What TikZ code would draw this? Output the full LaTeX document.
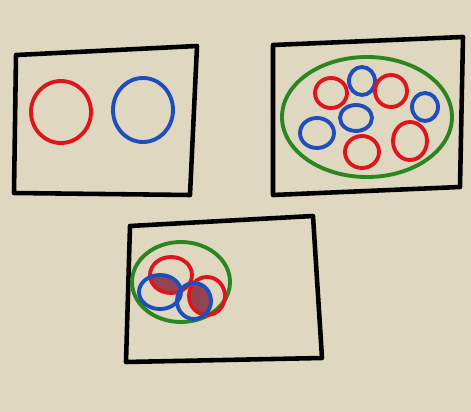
\documentclass[tikz,border=0pt]{standalone}
\definecolor{paper}{RGB}{223,215,191}
\definecolor{inkred}{RGB}{222,22,28}
\definecolor{inkblue}{RGB}{30,78,190}
\definecolor{inkgreen}{RGB}{42,134,30}
\definecolor{bruise}{RGB}{140,52,72}

\begin{document}
\begin{tikzpicture}[x=0.02cm,y=-0.02cm,line cap=round,line join=round,
    frame/.style={draw=black,line width=2.6pt},
    redring/.style={draw=inkred,line width=2.2pt},
    bluering/.style={draw=inkblue,line width=2.2pt},
    greenring/.style={draw=inkgreen,line width=2.2pt},
    overlap/.style={fill=bruise,fill opacity=0.9}]

\fill[paper] (0,0) rectangle (471,412);
\useasboundingbox (0,0) rectangle (471,412);

% first box: two sets apart
\draw[frame] (16,55)--(197,46)--(190,195)--(14,193)--cycle;
\draw[redring] (61,112) ellipse [x radius=30, y radius=31];
\draw[bluering] (143,110) ellipse [x radius=30, y radius=32];

% second box: many sets in one
\draw[frame] (273,45)--(463,37)--(460,187)--(273,195)--cycle;
\draw[greenring] (367,117) ellipse [x radius=85, y radius=60];
\draw[redring] (331,93) ellipse [x radius=16, y radius=15];
\draw[bluering] (362,81) ellipse [x radius=13, y radius=14];
\draw[redring] (391,91) ellipse [x radius=16, y radius=16];
\draw[bluering] (425,107) ellipse [x radius=13, y radius=14];
\draw[bluering] (356,118) ellipse [x radius=16, y radius=13];
\draw[bluering] (317,133) ellipse [x radius=17, y radius=15];
\draw[redring] (362,152) ellipse [x radius=17, y radius=16];
\draw[redring] (410,141) ellipse [x radius=17, y radius=19];

% third box: overlapping pairs
\draw[frame] (130,226)--(313,216)--(322,358)--(126,362)--cycle;
\draw[greenring] (181,282) ellipse [x radius=49, y radius=40];

\begin{scope}
\clip (171,275) ellipse [x radius=21, y radius=18];
\fill[overlap] (160,292) ellipse [x radius=21, y radius=17];
\end{scope}
\begin{scope}
\clip (207,296) ellipse [x radius=18, y radius=19];
\fill[overlap] (194,301) ellipse [x radius=17, y radius=18];
\end{scope}

\draw[redring] (171,275) ellipse [x radius=21, y radius=18];
\draw[redring] (207,296) ellipse [x radius=18, y radius=19];
\draw[bluering] (160,292) ellipse [x radius=21, y radius=17];
\draw[bluering] (194,301) ellipse [x radius=17, y radius=18];

\end{tikzpicture}
\end{document}
